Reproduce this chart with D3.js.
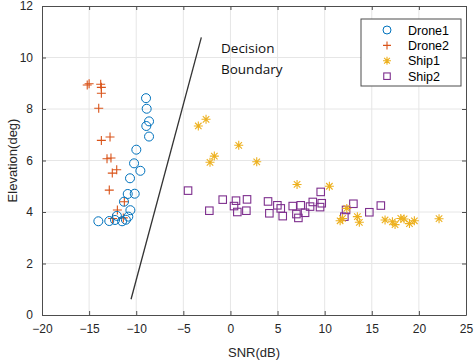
<!DOCTYPE html>
<html>
<head>
<meta charset="utf-8">
<script src="https://cdn.jsdelivr.net/npm/d3@7"></script>
<style>
  body { margin: 0; background: #fff; }
  svg text { font-family: "Liberation Sans", Arial, sans-serif; }
</style>
</head>
<body>
<svg id="chart" width="474" height="361"></svg>
<script>
// values
var drone1X = [-8.96, -8.89, -8.64, -8.93, -8.64, -9.99, -10.23, -9.56, -10.66, -10.9, -10.16, -11.3, -10.62, -10.84, -14.02, -12.86, -12.25, -11.5, -12.05, -11.1];
var drone1Y = [8.42, 8.01, 7.52, 7.34, 6.93, 6.42, 5.89, 5.60, 5.31, 4.70, 4.71, 4.40, 4.07, 3.82, 3.64, 3.65, 3.69, 3.64, 3.85, 3.70];

var drone2X = [-15.2, -15.0, -13.77, -13.7, -13.7, -13.98, -13.7, -12.78, -13.1, -12.68, -12.54, -12.07, -12.86, -11.26, -12.0, -12.5, -11.37];
var drone2Y = [8.93, 8.98, 8.96, 8.84, 8.61, 8.03, 6.78, 6.91, 6.07, 6.10, 5.51, 5.64, 4.85, 4.40, 4.08, 3.75, 3.77];

var ship1X = [-3.41, -2.59, 0.88, -1.71, -2.17, 2.79, 7.07, 10.5, 11.64, 12.35, 13.47, 13.68, 16.41, 17.19, 17.47, 18.08, 18.43, 19.0, 19.52, 22.14, 11.9];
var ship1Y = [7.34, 7.60, 6.59, 6.17, 5.93, 5.95, 5.07, 5.0, 3.66, 4.14, 3.82, 3.60, 3.69, 3.62, 3.51, 3.75, 3.73, 3.55, 3.66, 3.74, 3.75];

var ship2X = [-4.50, -0.82, -2.24, 0.59, 0.38, 0.73, 1.76, 1.69, 3.99, 4.13, 4.98, 5.34, 5.55, 6.61, 7.0, 7.21, 7.46, 7.92, 8.45, 8.74, 9.58, 9.69, 9.51, 12.09, 12.27, 13.05, 14.74, 15.96];
var ship2Y = [4.83, 4.48, 4.05, 4.44, 4.23, 4.0, 4.49, 4.05, 4.41, 3.95, 4.26, 4.14, 3.84, 4.23, 3.92, 3.77, 4.26, 3.97, 4.21, 4.39, 4.78, 4.34, 4.19, 3.82, 4.08, 4.32, 3.99, 4.25];

var boundaryX = [-10.55, -3.09];
var boundaryY = [0.61, 10.78];

var seriesNames = ["Drone1", "Drone2", "Ship1", "Ship2"];
var seriesColors = ["#0072BD", "#D95319", "#EDB120", "#7E2F8E"];
var xTicks = [-20, -15, -10, -5, 0, 5, 10, 15, 20, 25];
var yTicks = [0, 2, 4, 6, 8, 10, 12];

var svg = d3.select("#chart");
var L = 42, R = 466, T = 6, B = 315;

var x = d3.scaleLinear().domain([-20, 25]).range([L, R]);
var y = d3.scaleLinear().domain([0, 12]).range([B, T]);

// grid
svg.append("g").selectAll("line").data(xTicks.slice(1, -1)).enter().append("line")
    .attr("x1", d => x(d)).attr("x2", d => x(d)).attr("y1", T).attr("y2", B)
    .attr("stroke", "#e6e6e6").attr("stroke-width", 1);
svg.append("g").selectAll("line").data(yTicks.slice(1, -1)).enter().append("line")
    .attr("y1", d => y(d)).attr("y2", d => y(d)).attr("x1", L).attr("x2", R)
    .attr("stroke", "#e6e6e6").attr("stroke-width", 1);

// axes (ticks inside, box on)
var axColor = "#4d4d4d";
var gx = svg.append("g").attr("transform", "translate(0," + B + ")")
    .call(d3.axisBottom(x).tickValues(xTicks).tickSizeInner(-4).tickSizeOuter(0).tickPadding(9));
var gy = svg.append("g").attr("transform", "translate(" + L + ",0)")
    .call(d3.axisLeft(y).tickValues(yTicks).tickSizeInner(-4).tickSizeOuter(0).tickPadding(9));
var gx2 = svg.append("g").attr("transform", "translate(0," + T + ")")
    .call(d3.axisTop(x).tickValues(xTicks).tickSizeInner(-4).tickSizeOuter(0).tickFormat(""));
var gy2 = svg.append("g").attr("transform", "translate(" + R + ",0)")
    .call(d3.axisRight(y).tickValues(yTicks).tickSizeInner(-4).tickSizeOuter(0).tickFormat(""));
[gx, gy, gx2, gy2].forEach(function(g){
    g.select(".domain").attr("stroke", axColor);
    g.selectAll(".tick line").attr("stroke", axColor);
    g.selectAll(".tick text").attr("fill", "#262626").style("font-size", "12px")
        .style("font-family", "'Liberation Sans', Arial, sans-serif");
});

// axis titles
svg.append("text").attr("x", (L + R) / 2).attr("y", 357).attr("text-anchor", "middle")
    .style("font-size", "13px").attr("fill", "#262626").text("SNR(dB)");
svg.append("text").attr("transform", "translate(17," + ((T + B) / 2) + ") rotate(-90)")
    .attr("text-anchor", "middle").style("font-size", "13px").attr("fill", "#262626")
    .text("Elevation(deg)");

// decision boundary
svg.append("line")
    .attr("x1", x(boundaryX[0])).attr("y1", y(boundaryY[0]))
    .attr("x2", x(boundaryX[1])).attr("y2", y(boundaryY[1]))
    .attr("stroke", "#333").attr("stroke-width", 1.3);
svg.append("text").attr("x", 221).attr("y", 53).style("font-size", "13.5px")
    .style("font-family", "'Open Sans', sans-serif").attr("fill", "#111").text("Decision");
svg.append("text").attr("x", 221).attr("y", 74).style("font-size", "13.5px")
    .style("font-family", "'Open Sans', sans-serif").attr("fill", "#111").text("Boundary");

// markers: 0 circle, 1 plus, 2 star, 3 square
function drawMarker(g, kind, color, s) {
    if (kind === 0) {
        g.append("circle").attr("r", s / 2).attr("fill", "none").attr("stroke", color).attr("stroke-width", 1);
    } else if (kind === 1) {
        g.append("path").attr("d", "M" + (-s / 2) + ",0H" + (s / 2) + "M0," + (-s / 2) + "V" + (s / 2))
            .attr("stroke", color).attr("stroke-width", 1.1).attr("fill", "none");
    } else if (kind === 2) {
        var h = s / 2, d = h * 0.72;
        g.append("path").attr("d", "M" + (-h) + ",0H" + h + "M0," + (-h) + "V" + h +
            "M" + (-d) + "," + (-d) + "L" + d + "," + d + "M" + (-d) + "," + d + "L" + d + "," + (-d))
            .attr("stroke", color).attr("stroke-width", 1.1).attr("fill", "none");
    } else {
        g.append("rect").attr("x", -s / 2).attr("y", -s / 2).attr("width", s).attr("height", s)
            .attr("fill", "none").attr("stroke", color).attr("stroke-width", 1.1);
    }
}

var markerSize = [9, 9, 9, 7.5];
var allX = [drone1X, drone2X, ship1X, ship2X];
var allY = [drone1Y, drone2Y, ship1Y, ship2Y];
[3, 2, 1, 0].forEach(function(k){
    var pts = allX[k].map(function(v, i){ return [v, allY[k][i]]; });
    svg.append("g").selectAll("g").data(pts).enter().append("g")
        .attr("transform", d => "translate(" + x(d[0]) + "," + y(d[1]) + ")")
        .each(function(){ drawMarker(d3.select(this), k, seriesColors[k], markerSize[k]); });
});

// legend
var lg = svg.append("g");
lg.append("rect").attr("x", 361).attr("y", 19).attr("width", 100).attr("height", 67)
    .attr("fill", "#fff").attr("stroke", axColor).attr("stroke-width", 1);
seriesNames.forEach(function(name, k){
    var yy = 30 + k * 15.4;
    var g = lg.append("g").attr("transform", "translate(387," + yy + ")");
    drawMarker(g, k, seriesColors[k], k === 0 ? 8 : (k === 3 ? 6.5 : 8));
    lg.append("text").attr("x", 408).attr("y", yy + 4.5).style("font-size", "12.5px")
        .attr("fill", "#000").text(name);
});
</script>
</body>
</html>
